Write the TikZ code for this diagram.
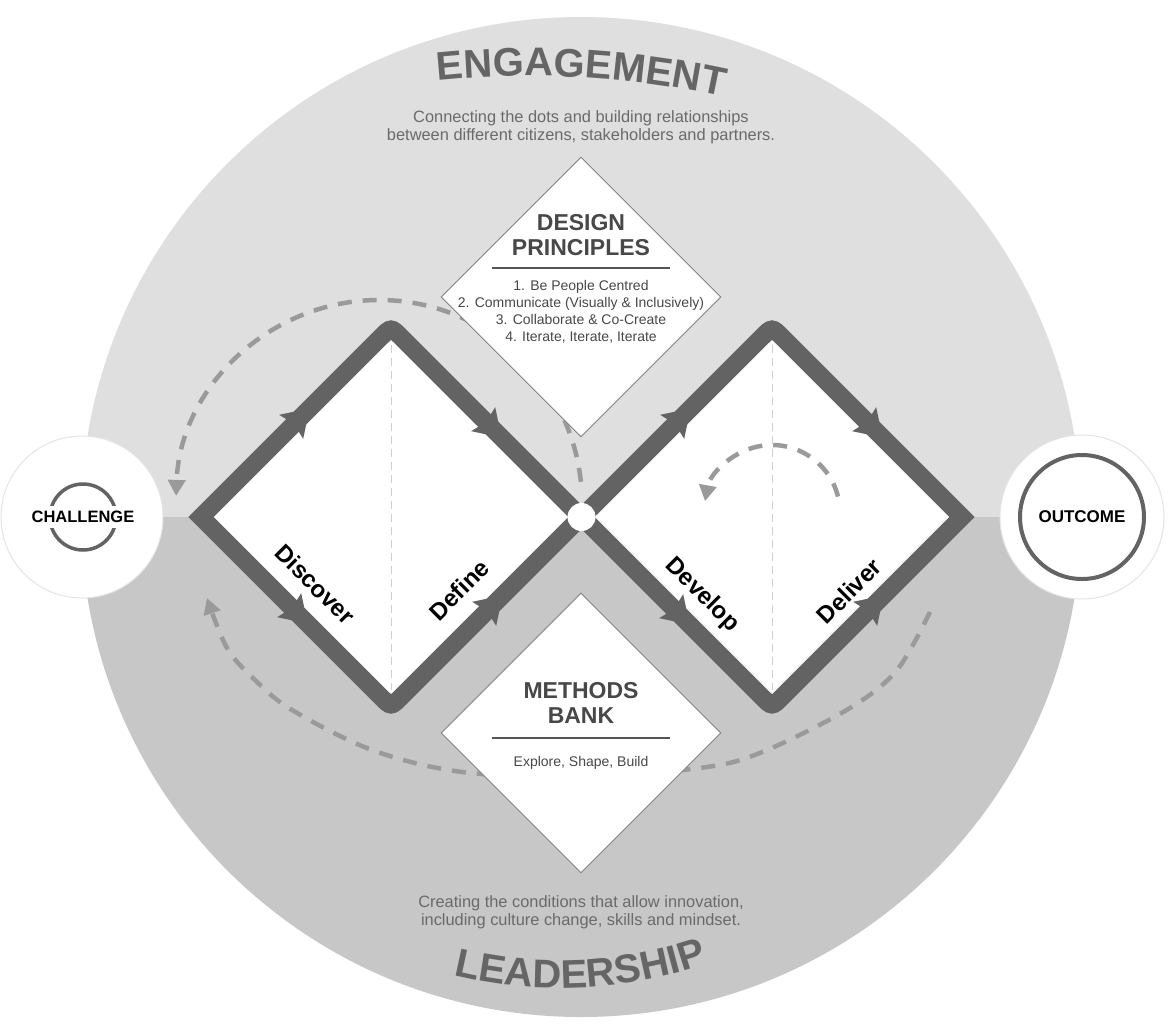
\documentclass[tikz,border=0pt]{standalone}
\usepackage{fontspec}
\setmainfont{Liberation Sans}
\usetikzlibrary{decorations.text,arrows.meta,shapes.geometric}
\definecolor{bgup}{HTML}{DFDFDF}
\definecolor{bglow}{HTML}{C7C7C7}
\definecolor{flowc}{HTML}{636363}
\definecolor{dashc}{HTML}{9A9A9A}
\definecolor{headc}{HTML}{484848}
\definecolor{descc}{HTML}{6A6A6A}
\definecolor{titlec}{HTML}{656565}
\definecolor{borderc}{HTML}{808080}
\definecolor{vlinec}{HTML}{CFCFCF}
\definecolor{rulec}{HTML}{555555}
\definecolor{rimc}{HTML}{E4E4E4}
\newcommand\fs[2]{\fontsize{#1}{#2}\selectfont}
\newcommand\engfont{\fs{40}{40}\bfseries}
\newcommand\flowarrow[3]{\fill[flowc,shift={(#1,#2)},rotate=#3] (22,0) -- (-4,17) -- (0,0) -- (-4,-17) -- cycle;}
\begin{document}
\begin{tikzpicture}[x=1pt,y=-1pt,
 dasharc/.style={draw=dashc,line width=4.5pt,dash pattern=on 14pt off 11pt,-{Triangle[length=16pt,width=17pt]}},
 flow/.style={draw=flowc,fill=white,line width=18pt,line join=miter},
 vline/.style={draw=vlinec,line width=1pt,dash pattern=on 8pt off 5pt},
 boxd/.style={diamond,draw=borderc,fill=white,line width=0.9pt,minimum size=280pt,inner sep=0pt},
 heading/.style={font=\fs{23}{25.5}\bfseries,text=headc,align=center},
 listtxt/.style={font=\fs{14}{17},text=headc,align=center},
 desc/.style={font=\fs{16.4}{18},text=descc,align=center},
 phase/.style={font=\fs{24}{24}\bfseries,text=black},
 endlabel/.style={font=\fs{16.5}{16.5}\bfseries,text=black}]

\useasboundingbox (0,0) rectangle (1170,1031);
\fill[white] (0,0) rectangle (1170,1031);

% background circle halves
\fill[bgup] (81,517) arc[start angle=180,end angle=360,radius=500] -- cycle;
\fill[bglow] (1081,517) arc[start angle=0,end angle=180,radius=500] -- cycle;

% dashed iteration arcs
\draw[dasharc] (379,503) ++(-6:203) arc[start angle=-6,end angle=-178,radius=203];
\draw[dasharc] plot[smooth,tension=0.55] coordinates {(930,612) (897,670) (850,708) (767,750) (707,767) (581,777) (462,772) (372,750) (292,710) (255,680) (227,648) (207,598)};

% double diamond
\path[flow] (201,517) -- (381,337) .. controls (391,327) .. (401,337) -- (581,517) -- (401,697) .. controls (391,707) .. (381,697) -- cycle;
\path[flow] (582,517) -- (762,337) .. controls (772,327) .. (782,337) -- (962,517) -- (782,697) .. controls (772,707) .. (762,697) -- cycle;
\draw[vline] (391,345) -- (391,690);
\draw[vline] (772,345) -- (772,690);

\flowarrow{294}{424}{45}
\flowarrow{486}{422}{-45}
\flowarrow{292}{608}{-45}
\flowarrow{487}{611}{45}
\flowarrow{675}{424}{45}
\flowarrow{867}{422}{-45}
\flowarrow{674}{609}{-45}
\flowarrow{868}{611}{45}

\draw[dasharc] (772,513) ++(-14:68) arc[start angle=-14,end angle=-170,radius=68];

\fill[white] (581.5,517) circle[radius=14];

% boxes
\node[boxd] (dp) at (581,297) {};
\node[boxd] (mb) at (581,733) {};

\node[heading] (dpt) at (581,235) {DESIGN\\PRINCIPLES};
\draw[rulec,line width=1.5pt] (492,268) -- (670,268);
\node[listtxt] (dpl) at (581,312) {1. Be People Centred\\2. Communicate (Visually \& Inclusively)\\3. Collaborate \& Co-Create\\4. Iterate, Iterate, Iterate};

\node[heading] (mbt) at (581,703) {METHODS\\BANK};
\draw[rulec,line width=1.5pt] (492,738) -- (670,738);
\node[listtxt] (mbl) at (581,763) {Explore, Shape, Build};

% start and end
\node[circle,fill=white,draw=rimc,line width=1pt,minimum size=162pt,inner sep=0pt] (ch) at (82,517) {};
\draw[flowc,line width=3.5pt] (83,517) circle[radius=33];
\node[endlabel,fill=white,inner xsep=1pt,inner ysep=5pt] (cht) at (83,517) {CHALLENGE};

\node[circle,fill=white,draw=rimc,line width=1pt,minimum size=164pt,inner sep=0pt] (oc) at (1082,517) {};
\draw[flowc,line width=4pt] (1082,517) circle[radius=62];
\node[endlabel,font=\fs{17}{17}\bfseries] (oct) at (1082,517) {OUTCOME};

% phase labels
\node[phase,rotate=-45] (l1) at (315,584) {Discover};
\node[phase,rotate=45] (l2) at (459,590) {Define};
\node[phase,rotate=-45] (l3) at (702,595) {Develop};
\node[phase,rotate=45] (l4) at (849,591) {Deliver};

% descriptions
\node[desc] (d1) at (581,127) {Connecting the dots and building relationships\\between different citizens, stakeholders and partners.};
\node[desc] (d2) at (581,912) {Creating the conditions that allow innovation,\\including culture change, skills and mindset.};

% arched titles
\path[decorate,decoration={text along path,text={|\engfont|ENGAGEMENT},text align=center,text color=titlec}]
  (530,976) ++(-101.75:900) arc[start angle=-101.75,end angle=-71.75,radius=900];
\path[decorate,decoration={text along path,text={|\engfont|LEADERSHIP},text align=center,text color=titlec}]
  (560,538) ++(112.3:450) arc[start angle=112.3,end angle=62.3,radius=450];
\end{tikzpicture}
\end{document}
